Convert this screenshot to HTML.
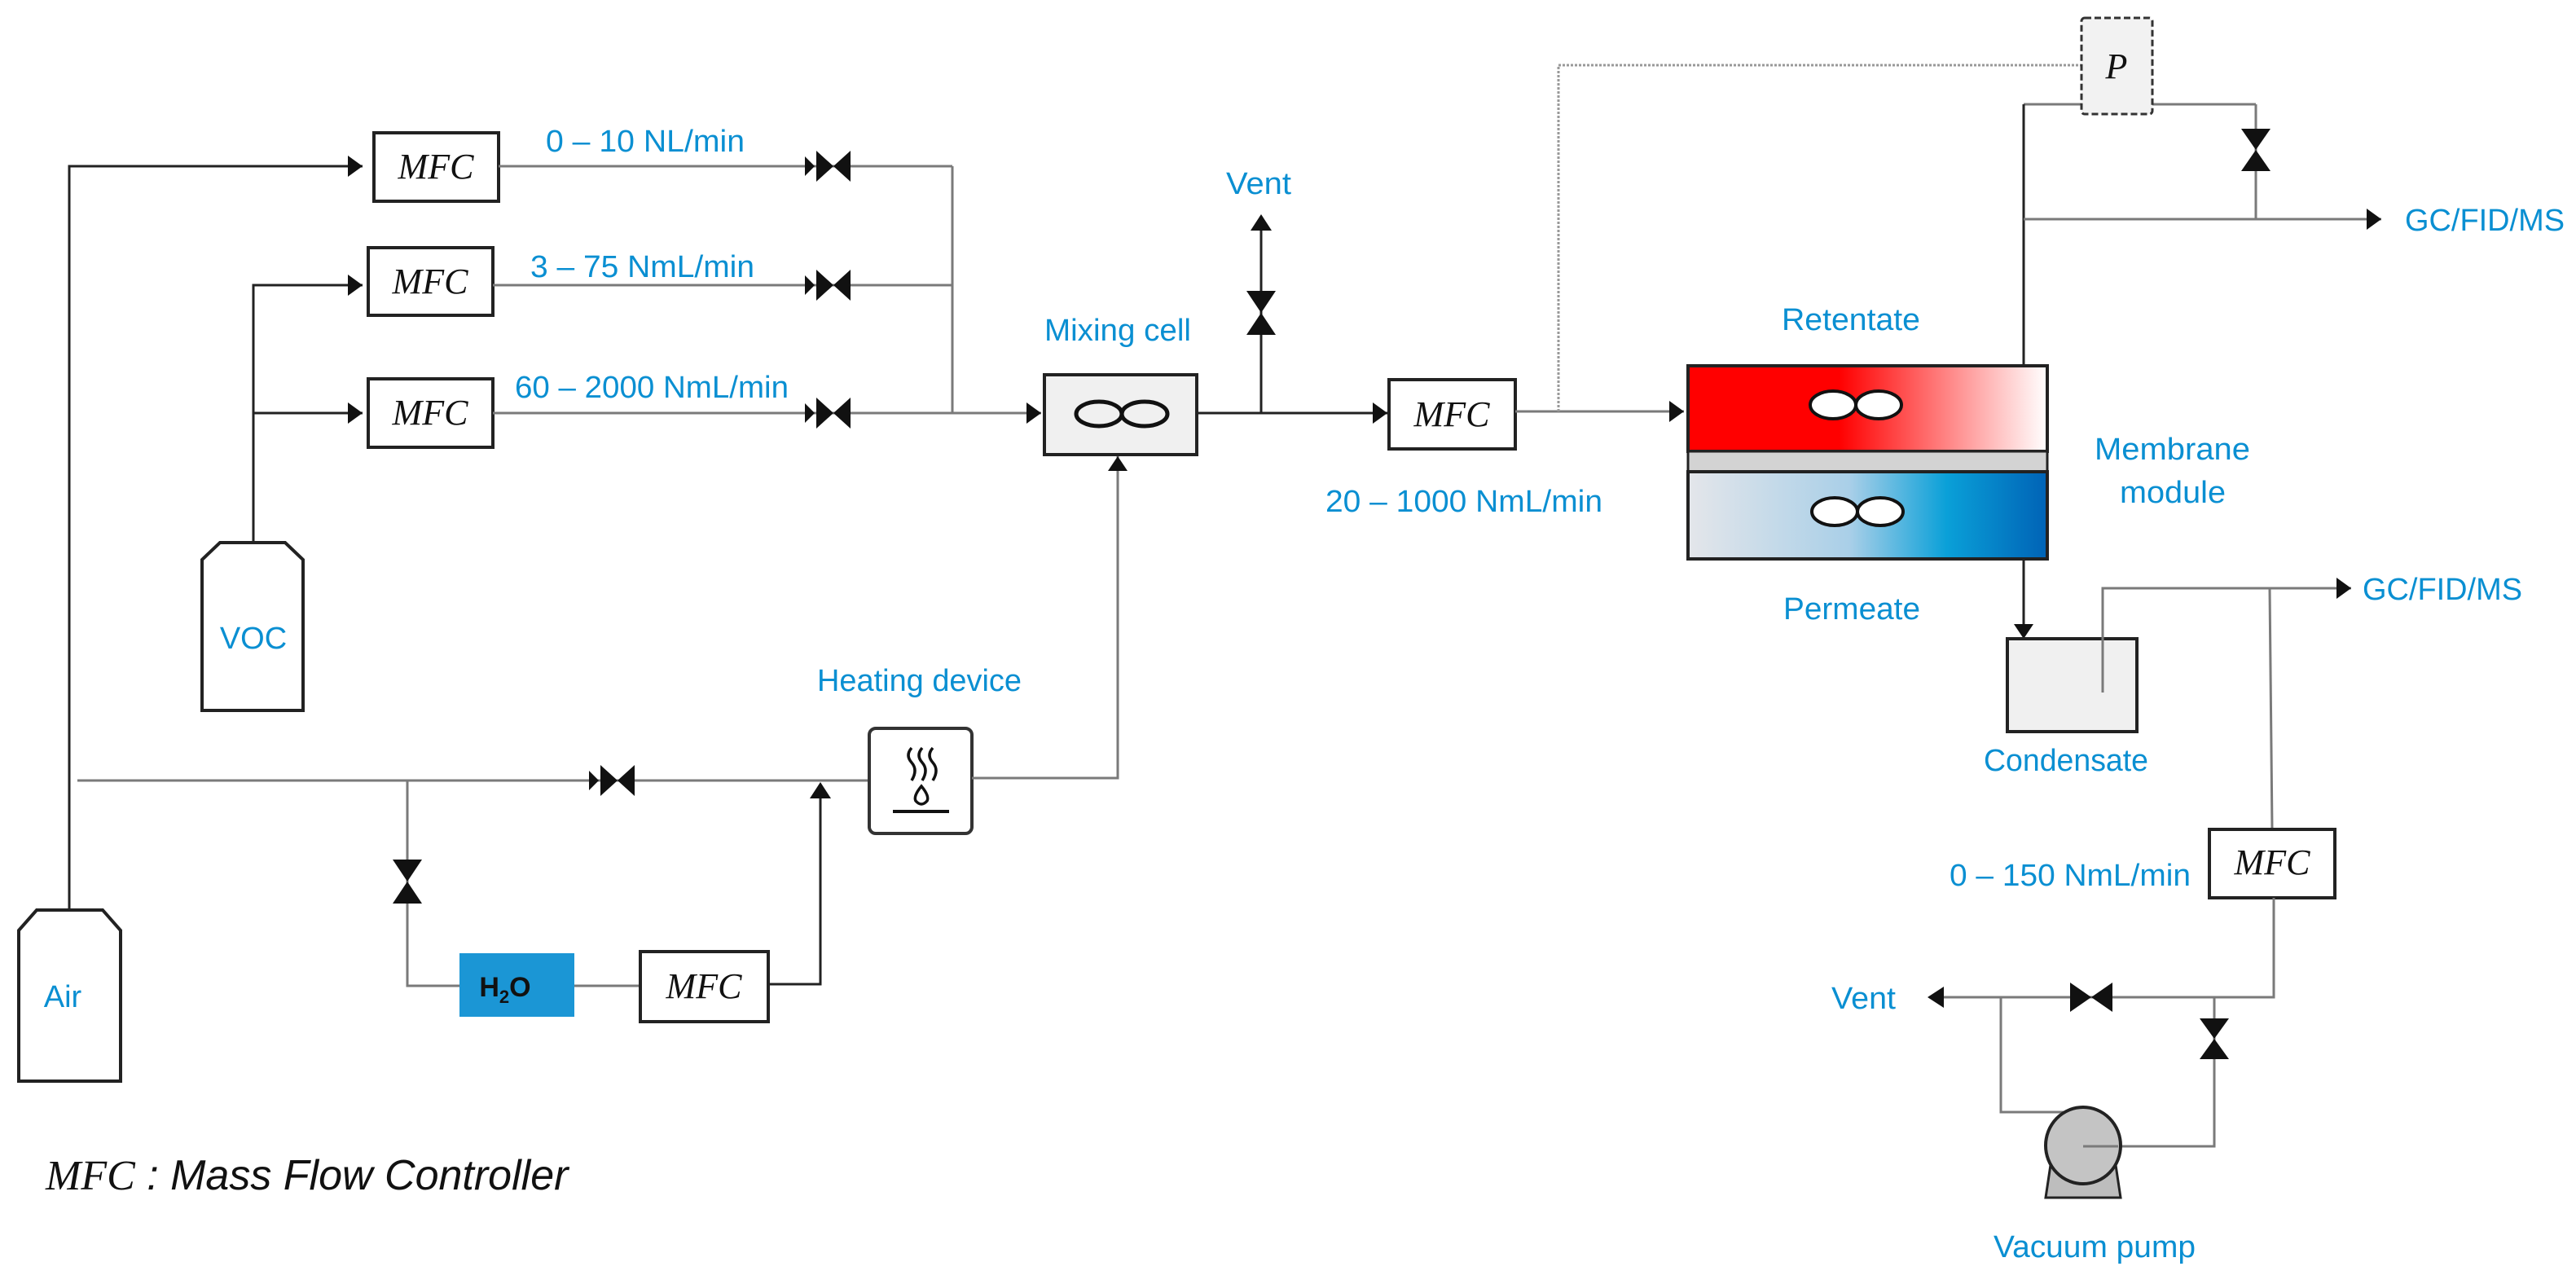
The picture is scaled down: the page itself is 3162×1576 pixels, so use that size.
<!DOCTYPE html>
<html><head><meta charset="utf-8"><style>
html,body{margin:0;padding:0;background:#fff}
svg{display:block}
.b{font-family:"Liberation Sans",sans-serif;fill:#0a8fd2;font-size:38px}
.m{font-family:"Liberation Serif",serif;font-style:italic;font-size:44px;fill:#111}
.g{stroke:#7a7a7a;stroke-width:3;fill:none}
.k{stroke:#222;stroke-width:3;fill:none}
.bx{stroke:#222;stroke-width:4;fill:#fff}
</style></head><body>
<svg width="3162" height="1576" viewBox="0 0 3162 1576" xmlns="http://www.w3.org/2000/svg">
<defs>
<linearGradient id="red" x1="0" x2="1" y1="0" y2="0">
<stop offset="0" stop-color="#ff0000"/><stop offset="0.42" stop-color="#ff0000"/><stop offset="1" stop-color="#ffffff"/>
</linearGradient>
<linearGradient id="blue" x1="0" x2="1" y1="0" y2="0">
<stop offset="0" stop-color="#e4e6ea"/><stop offset="0.45" stop-color="#a9cfe8"/><stop offset="0.72" stop-color="#0aa0d8"/><stop offset="1" stop-color="#0063b6"/>
</linearGradient>
</defs>

<!-- Air line -->
<polyline class="k" points="85,1117 85,204 445,204"/>
<polygon points="427,191 445,204 427,217" fill="#111"/>
<!-- Air bottle -->
<polygon class="bx" points="23,1142 45,1117 126,1117 148,1142 148,1327 23,1327"/>
<text class="b" x="77" y="1236" text-anchor="middle">Air</text>

<!-- MFC1 -->
<rect class="bx" x="459" y="163" width="153" height="84"/>
<text class="m" x="535" y="219" text-anchor="middle">MFC</text>
<line class="g" x1="612" y1="204" x2="1169" y2="204"/>
<text class="b" x="670" y="186" textLength="244" lengthAdjust="spacingAndGlyphs">0 – 10 NL/min</text>

<!-- VOC line -->
<polyline class="k" points="311,666 311,350 445,350"/>
<polygon points="427,337 445,350 427,363" fill="#111"/>
<line class="k" x1="311" y1="507" x2="445" y2="507"/>
<polygon points="427,494 445,507 427,520" fill="#111"/>
<polygon class="bx" points="248,687 270,666 350,666 372,687 372,872 248,872"/>
<text class="b" x="311" y="796" text-anchor="middle">VOC</text>

<!-- MFC2 -->
<rect class="bx" x="452" y="304" width="153" height="83"/>
<text class="m" x="528" y="360" text-anchor="middle">MFC</text>
<line class="g" x1="605" y1="350" x2="1169" y2="350"/>
<text class="b" x="651" y="340" textLength="275" lengthAdjust="spacingAndGlyphs">3 – 75 NmL/min</text>

<!-- MFC3 -->
<rect class="bx" x="452" y="465" width="153" height="84"/>
<text class="m" x="528" y="521" text-anchor="middle">MFC</text>
<line class="g" x1="605" y1="507" x2="1278" y2="507"/>
<text class="b" x="632" y="488" textLength="336" lengthAdjust="spacingAndGlyphs">60 – 2000 NmL/min</text>

<!-- valves top three -->
<g fill="#111">
<polygon points="988,192 1000,204 988,216"/><polygon points="1002,185 1023,204 1002,223"/><polygon points="1044,185 1023,204 1044,223"/>
<polygon points="988,338 1000,350 988,362"/><polygon points="1002,331 1023,350 1002,369"/><polygon points="1044,331 1023,350 1044,369"/>
<polygon points="988,495 1000,507 988,519"/><polygon points="1002,488 1023,507 1002,526"/><polygon points="1044,488 1023,507 1044,526"/>
</g>
<line class="g" x1="1169" y1="204" x2="1169" y2="507"/>
<polygon points="1260,494 1278,507 1260,520" fill="#111"/>

<!-- Mixing cell -->
<text class="b" x="1282" y="418" textLength="180" lengthAdjust="spacingAndGlyphs">Mixing cell</text>
<rect x="1282" y="460" width="187" height="98" fill="#f0f0f0" stroke="#222" stroke-width="4"/>
<ellipse cx="1349" cy="508" rx="28" ry="15" fill="none" stroke="#111" stroke-width="5"/>
<ellipse cx="1405" cy="508" rx="28" ry="15" fill="none" stroke="#111" stroke-width="5"/>

<!-- mixing to MFC4 -->
<line class="k" x1="1469" y1="507" x2="1703" y2="507"/>
<polygon points="1685,494 1703,507 1685,520" fill="#111"/>
<line class="k" x1="1548" y1="507" x2="1548" y2="265"/>
<polygon points="1535,283 1548,263 1561,283" fill="#111"/>
<polygon points="1530,357 1566,357 1548,384" fill="#111"/>
<polygon points="1530,411 1566,411 1548,384" fill="#111"/>
<text class="b" x="1505" y="238" textLength="80" lengthAdjust="spacingAndGlyphs">Vent</text>

<!-- MFC4 -->
<rect class="bx" x="1705" y="466" width="155" height="85"/>
<text class="m" x="1782" y="523" text-anchor="middle">MFC</text>
<text class="b" x="1627" y="628" textLength="340" lengthAdjust="spacingAndGlyphs">20 – 1000 NmL/min</text>
<line class="g" x1="1860" y1="505" x2="2067" y2="505"/>
<polygon points="2049,492 2067,505 2049,518" fill="#111"/>
<polyline points="1913,505 1913,80 2555,80" fill="none" stroke="#999" stroke-width="3" stroke-dasharray="3,2"/>

<!-- P box and retentate lines -->
<line class="g" x1="2484" y1="128" x2="2769" y2="128"/>
<rect x="2555" y="22" width="87" height="118" rx="4" fill="#f2f2f2" stroke="#333" stroke-width="3" stroke-dasharray="8,4"/>
<text class="m" x="2598" y="96" text-anchor="middle">P</text>
<line class="g" x1="2769" y1="128" x2="2769" y2="269"/>
<polygon points="2751,158 2787,158 2769,184" fill="#111"/>
<polygon points="2751,210 2787,210 2769,184" fill="#111"/>
<line class="k" x1="2484" y1="128" x2="2484" y2="449"/>
<line class="g" x1="2484" y1="269" x2="2923" y2="269"/>
<polygon points="2905,256 2923,269 2905,282" fill="#111"/>
<text class="b" x="2952" y="283" textLength="196" lengthAdjust="spacingAndGlyphs">GC/FID/MS</text>

<!-- Membrane module -->
<text class="b" x="2187" y="405" textLength="170" lengthAdjust="spacingAndGlyphs">Retentate</text>
<rect x="2072" y="449" width="441" height="105" fill="url(#red)" stroke="#222" stroke-width="4"/>
<rect x="2072" y="554" width="441" height="25" fill="#d3d3d3" stroke="#222" stroke-width="3"/>
<rect x="2072" y="579" width="441" height="107" fill="url(#blue)" stroke="#222" stroke-width="4"/>
<ellipse cx="2250" cy="497" rx="28" ry="17" fill="#fff" stroke="#111" stroke-width="4"/>
<ellipse cx="2306" cy="497" rx="28" ry="17" fill="#fff" stroke="#111" stroke-width="4"/>
<ellipse cx="2252" cy="628" rx="28" ry="17" fill="#fff" stroke="#111" stroke-width="4"/>
<ellipse cx="2308" cy="628" rx="28" ry="17" fill="#fff" stroke="#111" stroke-width="4"/>
<text class="b" x="2571" y="564" textLength="191" lengthAdjust="spacingAndGlyphs">Membrane</text>
<text class="b" x="2602" y="617" textLength="130" lengthAdjust="spacingAndGlyphs">module</text>
<text class="b" x="2189" y="760" textLength="168" lengthAdjust="spacingAndGlyphs">Permeate</text>

<!-- Condensate -->
<line class="k" x1="2484" y1="686" x2="2484" y2="784"/>
<polygon points="2472,766 2484,784 2496,766" fill="#111"/>
<rect x="2464" y="784" width="159" height="114" fill="#f0f0f0" stroke="#222" stroke-width="4"/>
<polyline class="g" points="2581,850 2581,722 2886,722"/>
<polygon points="2868,709 2886,722 2868,735" fill="#111"/>
<text class="b" x="2900" y="736" textLength="196" lengthAdjust="spacingAndGlyphs">GC/FID/MS</text>
<text class="b" x="2435" y="946" textLength="202" lengthAdjust="spacingAndGlyphs">Condensate</text>
<line class="g" x1="2786" y1="722" x2="2789" y2="1018"/>

<!-- MFC5 -->
<rect class="bx" x="2712" y="1018" width="154" height="84"/>
<text class="m" x="2789" y="1073" text-anchor="middle">MFC</text>
<text class="b" x="2393" y="1087" textLength="296" lengthAdjust="spacingAndGlyphs">0 – 150 NmL/min</text>
<polyline class="g" points="2791,1102 2791,1224 2368,1224"/>
<polygon points="2386,1211 2366,1224 2386,1237" fill="#111"/>
<text class="b" x="2248" y="1238" textLength="79" lengthAdjust="spacingAndGlyphs">Vent</text>
<polygon points="2541,1206 2567,1224 2541,1242" fill="#111"/>
<polygon points="2593,1206 2567,1224 2593,1242" fill="#111"/>
<polyline class="g" points="2456,1224 2456,1365 2534,1365"/>
<polyline class="g" points="2718,1224 2718,1407 2557,1407"/>
<polygon points="2700,1250 2736,1250 2718,1275" fill="#111"/>
<polygon points="2700,1300 2736,1300 2718,1275" fill="#111"/>
<!-- pump -->
<polygon points="2517,1430 2597,1430 2603,1470 2511,1470" fill="#bdbdbd" stroke="#222" stroke-width="3"/>
<ellipse cx="2557" cy="1406" rx="46" ry="47" fill="#c4c4c4" stroke="#222" stroke-width="4"/>
<line class="g" x1="2557" y1="1407" x2="2600" y2="1407"/>
<text class="b" x="2447" y="1543" textLength="248" lengthAdjust="spacingAndGlyphs">Vacuum pump</text>

<!-- bottom air line -->
<line class="g" x1="95" y1="958" x2="1067" y2="958"/>
<g fill="#111">
<polygon points="723,946 735,958 723,970"/><polygon points="737,939 758,958 737,977"/><polygon points="779,939 758,958 779,977"/>
</g>
<polyline class="g" points="500,958 500,1210 564,1210"/>
<polygon points="482,1055 518,1055 500,1082" fill="#111"/>
<polygon points="482,1109 518,1109 500,1082" fill="#111"/>
<rect x="564" y="1170" width="141" height="78" fill="#1b96d5"/>
<text x="620" y="1223" font-family="Liberation Sans,sans-serif" font-size="34" font-weight="bold" fill="#111" text-anchor="middle">H<tspan font-size="22" dy="8">2</tspan><tspan dy="-8">O</tspan></text>
<line class="g" x1="705" y1="1210" x2="786" y2="1210"/>
<rect class="bx" x="786" y="1168" width="157" height="86"/>
<text class="m" x="864" y="1225" text-anchor="middle">MFC</text>
<polyline class="k" points="943,1208 1007,1208 1007,962"/>
<polygon points="994,980 1007,960 1020,980" fill="#111"/>

<!-- heating device -->
<text class="b" x="1003" y="848" textLength="251" lengthAdjust="spacingAndGlyphs">Heating device</text>
<rect x="1067" y="894" width="126" height="129" rx="8" fill="#fff" stroke="#333" stroke-width="4"/>
<g fill="none" stroke="#111" stroke-width="3.5">
<path d="M1119,918 q-8,9 0,18 q8,9 0,22"/>
<path d="M1132,918 q-8,9 0,18 q8,9 0,22"/>
<path d="M1145,918 q-8,9 0,18 q8,9 0,22"/>
<path d="M1131,965 q-10,12 -7,18 q7,8 14,0 q3,-6 -7,-18z"/>
</g>
<line x1="1096" y1="996" x2="1165" y2="996" stroke="#111" stroke-width="4"/>
<polyline class="g" points="1193,955 1372,955 1372,560"/>
<polygon points="1360,578 1372,560 1384,578" fill="#111"/>

<!-- legend -->
<text x="56" y="1460" font-size="52" fill="#111"><tspan font-family="Liberation Serif,serif" font-style="italic">MFC</tspan><tspan font-family="Liberation Sans,sans-serif" font-style="italic"> : Mass Flow Controller</tspan></text>
</svg>
</body></html>
